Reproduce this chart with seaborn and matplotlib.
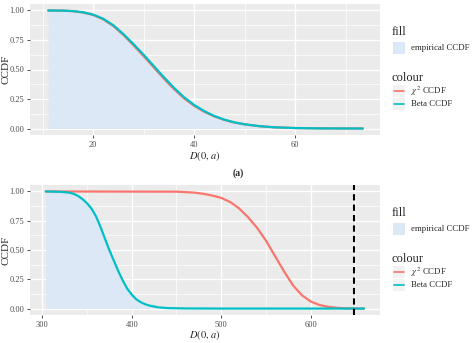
import numpy as np
import pandas as pd
import matplotlib
matplotlib.use("Agg")
import matplotlib.pyplot as plt
from matplotlib.patches import Rectangle
from matplotlib.lines import Line2D
import seaborn as sns

# ---------------- data ----------------
# panel (a)
a_x = [11.1, 14, 16, 18, 20, 22, 24, 26, 28, 30, 32, 34, 36, 38, 40, 42, 44, 46, 48, 50,
       53, 56, 60, 65, 73.4]
a_beta = [1.000, 0.999, 0.995, 0.985, 0.965, 0.930, 0.875, 0.800, 0.715, 0.625, 0.530,
          0.435, 0.345, 0.265, 0.200, 0.148, 0.106, 0.075, 0.052, 0.036, 0.020, 0.010,
          0.004, 0.001, 0.000]
a_chi2 = [1.000, 0.999, 0.994, 0.983, 0.962, 0.925, 0.868, 0.792, 0.705, 0.613, 0.518,
          0.423, 0.334, 0.256, 0.192, 0.142, 0.102, 0.072, 0.050, 0.035, 0.019, 0.010,
          0.004, 0.001, 0.000]
a_emp = a_beta

# panel (b)
b_x_beta = [304, 320, 330, 335, 340, 345, 350, 355, 360, 365, 370, 375, 380, 385, 390, 395,
            400, 405, 410, 415, 420, 430, 440, 460, 500, 659.6]
b_beta = [1.000, 0.997, 0.990, 0.980, 0.962, 0.935, 0.900, 0.855, 0.790, 0.700, 0.600,
          0.500, 0.410, 0.320, 0.240, 0.170, 0.120, 0.080, 0.055, 0.037, 0.025, 0.010,
          0.004, 0.001, 0.000, 0.000]
b_x_chi2 = [304, 450, 470, 480, 490, 500, 510, 520, 530, 540, 550, 560, 570, 580, 590, 600,
            610, 620, 630, 640, 650, 659.6]
b_chi2 = [1.000, 0.998, 0.990, 0.980, 0.965, 0.945, 0.910, 0.855, 0.780, 0.690, 0.580,
          0.450, 0.320, 0.200, 0.115, 0.060, 0.030, 0.014, 0.006, 0.002, 0.0005, 0.000]
b_emp_x = b_x_beta
b_emp = b_beta
b_vline = 648

colour_labels = [r"$\chi^2$ CCDF", "Beta CCDF"]
fill_label = "empirical CCDF"

# ---------------- style ----------------
sns.set_theme(style="darkgrid")
plt.rcParams["font.family"] = ["Liberation Serif", "DejaVu Serif"]
plt.rcParams["mathtext.fontset"] = "stix"

RED = "#F8766D"
TEAL = "#00BFC4"
FILL = "#dce8f5"
PANEL = "#EBEBEB"

W, H = 474, 343
fig = plt.figure(figsize=(W / 100, H / 100), dpi=100)
fig.patch.set_facecolor("white")


def fx(px):
    return px / W


def fy(py):
    return 1 - py / H


def make_panel(rect, xs_chi, ys_chi, xs_beta, ys_beta, ex, ey, xlim, xmaj, xmin_,
               xlab_y, vline=None):
    ax = fig.add_axes(rect)
    ax.set_facecolor(PANEL)
    ax.fill_between(ex, ey, 0, color=FILL, lw=0, zorder=1)
    df = pd.concat([
        pd.DataFrame({"x": xs_chi, "y": ys_chi, "curve": colour_labels[0]}),
        pd.DataFrame({"x": xs_beta, "y": ys_beta, "curve": colour_labels[1]}),
    ])
    sns.lineplot(data=df, x="x", y="y", hue="curve", hue_order=colour_labels,
                 palette={colour_labels[0]: RED, colour_labels[1]: TEAL},
                 linewidth=1.6, legend=False, ax=ax, zorder=3)
    if vline is not None:
        ax.axvline(vline, color="black", lw=1.5, ls=(0, (3, 2)), zorder=4)
    ax.set_xlim(*xlim)
    ax.set_ylim(-0.055, 1.055)
    ax.set_xticks(xmaj)
    ax.set_xticks(xmin_, minor=True)
    ax.set_yticks([0, 0.25, 0.5, 0.75, 1.0])
    ax.set_yticks([0.125, 0.375, 0.625, 0.875], minor=True)
    ax.set_yticklabels(["0.00", "0.25", "0.50", "0.75", "1.00"])
    ax.grid(which="major", color="white", lw=1.0)
    ax.grid(which="minor", color="white", lw=0.5)
    ax.set_axisbelow(True)
    for s in ax.spines.values():
        s.set_visible(False)
    ax.tick_params(which="major", length=2.5, width=0.6, color="#333333",
                   labelsize=6, labelcolor="#4D4D4D", pad=1.5,
                   bottom=True, left=True)
    ax.tick_params(which="minor", length=0)
    ax.set_xlabel(r"$D(0,\,a)$", fontsize=7.5)
    ax.xaxis.set_label_coords(0.5, xlab_y)
    ax.set_ylabel("CCDF", fontsize=8)
    ax.yaxis.set_label_coords(-0.068, 0.5)
    return ax


ax1 = make_panel([fx(30), fy(135), 350 / W, 131 / H], a_x, a_chi2, a_x, a_beta, a_x, a_emp,
                 (7.5, 76.8), [20, 40, 60], [10, 30, 50, 70], -0.16)
ax2 = make_panel([fx(30), fy(315), 350 / W, 130 / H], b_x_chi2, b_chi2, b_x_beta, b_beta,
                 b_emp_x, b_emp, (286.4, 677.4), [300, 400, 500, 600], [350, 450, 550, 650],
                 -0.155, vline=b_vline)
for ax in (ax1, ax2):
    ax.xaxis.label.set_va("center")
    ax.yaxis.label.set_va("center")

fig.text(fx(238), fy(173), "(a)", fontsize=7, fontweight="bold", ha="center", va="center")


def legend(top):
    fig.text(fx(392), fy(top + 28), "fill", fontsize=9, ha="left", va="center")
    fig.add_artist(Rectangle((fx(393), fy(top + 50)), 12 / W, 12 / H,
                             transform=fig.transFigure, fc=FILL, ec="none"))
    fig.text(fx(411), fy(top + 44), fill_label, fontsize=6.3, ha="left", va="center")
    fig.text(fx(392), fy(top + 74), "colour", fontsize=9, ha="left", va="center")
    for lab, col, yc in [(colour_labels[0], RED, top + 87), (colour_labels[1], TEAL, top + 100)]:
        fig.add_artist(Rectangle((fx(393), fy(yc + 6)), 12 / W, 12 / H,
                                 transform=fig.transFigure, fc="#F2F2F2", ec="none"))
        fig.add_artist(Line2D([fx(394), fx(404)], [fy(yc), fy(yc)], transform=fig.transFigure,
                              color=col, lw=1.2))
        fig.text(fx(411), fy(yc), lab, fontsize=6.3, ha="left", va="center")


legend(4)
legend(185)

fig.savefig("out.png", dpi=100, facecolor="white")
